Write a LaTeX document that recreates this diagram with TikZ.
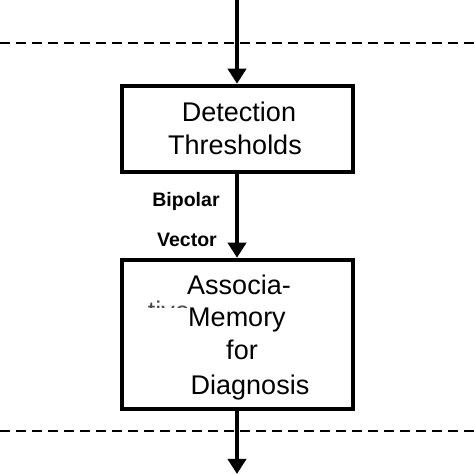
\documentclass[tikz,border=0pt]{standalone}
\usepackage{fontspec}
\setmainfont{Liberation Sans}
\usetikzlibrary{arrows.meta}
\begin{document}
\begin{tikzpicture}[x=1pt,y=1pt,
  box/.style={draw,line width=4.5pt,minimum width=231pt,inner sep=0pt},
  flow/.style={line width=4pt,-{Triangle[width=18pt,length=15pt]}},
  sep/.style={line width=1.3pt,dash pattern=on 10pt off 6pt},
  txt/.style={font=\fontsize{27}{32}\selectfont,anchor=base,inner sep=0pt},
  lab/.style={font=\fontsize{19.5}{23}\selectfont\bfseries,anchor=base,inner sep=0pt}]
\useasboundingbox (0,0) rectangle (474,474);
\fill[white] (0,0) rectangle (474,474);
% separators
\draw[sep] (0,431) -- (474,431);
\draw[sep] (0,43) -- (474,43);
% boxes
\node[box,minimum height=86pt] (det) at (237.5,345) {};
\node[box,minimum height=149pt] (mem) at (237.5,139.5) {};
% texts
\node[txt] (t1) at (239,352) {Detection};
\node[txt] (t2) at (235,319) {Thresholds};
\node[txt] (t3) at (239,179) {Associa-};
\begin{scope}
\clip (140,166) rectangle (188,175);
\node[txt,anchor=base east,text=black!70] (t3b) at (190,153) {tive};
\end{scope}
\node[txt] (t4) at (237,147) {Memory};
\node[txt] (t5) at (242,114) {for};
\node[txt] (t6) at (250,79) {Diagnosis};
\node[lab] (l1) at (186,267) {Bipolar};
\node[lab] (l2) at (187,227) {Vector};
% connectors
\coordinate (top) at (237,474);
\coordinate (bot) at (237,0);
\draw[flow] (top) -- (det.north -| top);
\draw[flow] (det.south -| top) -- (mem.north -| top);
\draw[flow] (mem.south -| top) -- (bot);
\end{tikzpicture}
\end{document}
